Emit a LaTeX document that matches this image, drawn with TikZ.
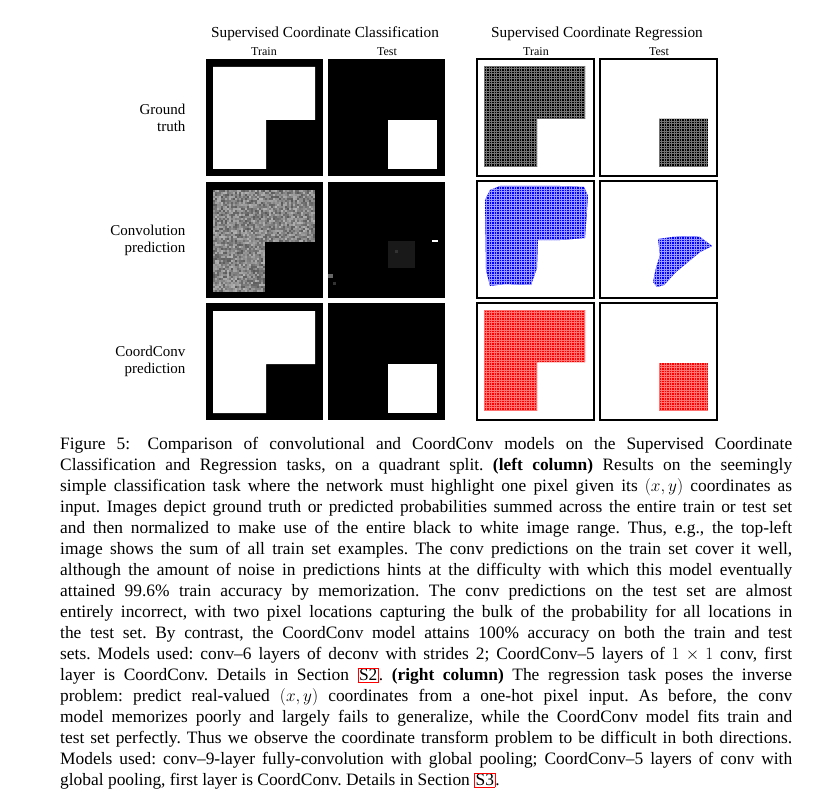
\documentclass[tikz,border=0pt]{standalone}
\usepackage{fontspec}
\setmainfont{Liberation Serif}
\begin{document}
\begin{tikzpicture}[x=1pt,y=-1pt,
  wbox/.style={draw=black,line width=1.6pt,fill=white},
  lbl/.style={font=\fontsize{15}{17}\selectfont,align=right,anchor=east},
  hdr/.style={font=\fontsize{15.3}{17}\selectfont},
  sub/.style={font=\fontsize{12}{14}\selectfont}]
\useasboundingbox[fill=white] (0,0) rectangle (818,802);
% headers
\node[hdr] (h1) at (325,34) {Supervised Coordinate Classification};
\node[hdr] (h2) at (597,34) {Supervised Coordinate Regression};
\node[sub] (t1) at (264,52) {Train};
\node[sub] (t2) at (387,52) {Test};
\node[sub] (t3) at (536,52) {Train};
\node[sub] (t4) at (659,52) {Test};
% row labels
\node[lbl] (r1) at (189,118) {Ground\\truth};
\node[lbl] (r2) at (189,240) {Convolution\\prediction};
\node[lbl] (r3) at (189,361) {CoordConv\\prediction};
% ---------- classification panels
\foreach \y in {0,244}{
  \fill[black] (206,59+\y) rectangle (323,176+\y);
  \fill[white] (213,67+\y) -- (315,67+\y) -- (315,120+\y) -- (266,120+\y) -- (266,169+\y) -- (213,169+\y) -- cycle;
  \fill[black] (328,59+\y) rectangle (445,176+\y);
  \fill[white] (388,120+\y) rectangle (437,169+\y);
}
% conv train noise
\fill[black] (206,182) rectangle (323,298);
\pgfmathsetseed{7}
\foreach \i in {0,...,50}{
  \foreach \j in {0,...,50}{
    \pgfmathsetmacro\px{213+2*\i}
    \pgfmathsetmacro\py{190+2*\j}
    \pgfmathsetmacro\ok{(\px<265 || \py<241) ? 1 : 0}
    \ifdim\ok pt>0.5pt
      \pgfmathsetmacro\g{30+35*rnd}
      \fill[black!\g] (\px,\py) rectangle ++(2,2);
    \fi
  }
}
% conv test
\fill[black] (328,182) rectangle (445,298);
\fill[black!90] (388,241) rectangle (415,268);
\fill[black!80] (395,250) rectangle (398,253);
\fill[white] (432,240) rectangle (438,242);
\fill[black!60] (328,274) rectangle (333,278);
\fill[black!80] (333,282) rectangle (336,285);
% ---------- regression panels
\foreach \y in {0,122,244}{
  \draw[wbox] (477,59+\y) rectangle (594,176+\y);
  \draw[wbox] (600,59+\y) rectangle (717,176+\y);
}
% ground truth grid (dark)
\begin{scope}
  \clip (484,66) -- (585,66) -- (585,119) -- (537,119) -- (537,167) -- (484,167) -- cycle
        (659,119) rectangle (708,167);
  \fill[black] (484,66) rectangle (708,167);
  \foreach \k in {0,...,90}{
    \draw[black!55,line width=0.3pt] (484+2.5*\k,66) -- (484+2.5*\k,167);
  }
  \foreach \k in {0,...,41}{
    \draw[black!55,line width=0.3pt] (484,66+2.5*\k) -- (708,66+2.5*\k);
  }
\end{scope}
% CoordConv grid (red)
\begin{scope}
  \clip (484,310) -- (585,310) -- (585,362) -- (537,362) -- (537,411) -- (484,411) -- cycle
        (659,363) rectangle (708,411);
  \fill[red] (484,310) rectangle (708,411);
  \foreach \k in {0,...,90}{
    \draw[white!45!red,line width=0.3pt] (484+2.5*\k,310) -- (484+2.5*\k,411);
  }
  \foreach \k in {0,...,41}{
    \draw[white!45!red,line width=0.3pt] (484,310+2.5*\k) -- (708,310+2.5*\k);
  }
\end{scope}
% conv blue predictions
\begin{scope}
  \clip (490,190) -- (500,186) -- (560,186) -- (584,187) -- (588,196) -- (585,238) -- (560,240) -- (538,240) -- (537,268) -- (531,285) -- (505,284) -- (490,286) -- (486,270) -- (485,200) -- cycle
        (658,239) -- (672,237) -- (690,236) -- (700,237) -- (712,246) -- (700,252) -- (688,262) -- (676,272) -- (664,285) -- (657,287) -- (653,282) -- (656,268) -- (660,255) -- cycle;
  \fill[blue] (484,184) rectangle (712,290);
  \foreach \k in {0,...,90}{
    \draw[white!60!blue,line width=0.3pt] (484+2.5*\k,184) -- (484+2.5*\k,290);
  }
  \foreach \k in {0,...,42}{
    \draw[white!60!blue,line width=0.3pt] (484,184+2.5*\k) -- (712,184+2.5*\k);
  }
\end{scope}
% ---------- caption
\node[anchor=north west,inner sep=0pt,text width=732pt,align=justify,
  font=\fontsize{17.4}{21}\selectfont] (cap) at (60,437) {%
\parindent=0pt\parfillskip=0pt\hyphenpenalty=10000\emergencystretch=20pt\frenchspacing
\setlength\fboxsep{1pt}%
Figure 5:\quad Comparison of convolutional and CoordConv models on the Supervised Coordinate\par
Classification and Regression tasks, on a quadrant split. \textbf{(left column)} Results on the seemingly\par
simple classification task where the network must highlight one pixel given its $(x,y)$ coordinates as\par
input. Images depict ground truth or predicted probabilities summed across the entire train or test set\par
and then normalized to make use of the entire black to white image range. Thus, e.g., the top-left\par
image shows the sum of all train set examples. The conv predictions on the train set cover it well,\par
although the amount of noise in predictions hints at the difficulty with which this model eventually\par
attained 99.6\% train accuracy by memorization. The conv predictions on the test set are almost\par
entirely incorrect, with two pixel locations capturing the bulk of the probability for all locations in\par
the test set. By contrast, the CoordConv model attains 100\% accuracy on both the train and test\par
sets. Models used: conv–6 layers of deconv with strides 2; CoordConv–5 layers of $1\times1$ conv, first\par
layer is CoordConv. Details in Section \fcolorbox{red}{white}{S2}. \textbf{(right column)} The regression task poses the inverse\par
problem: predict real-valued $(x,y)$ coordinates from a one-hot pixel input. As before, the conv\par
model memorizes poorly and largely fails to generalize, while the CoordConv model fits train and\par
test set perfectly. Thus we observe the coordinate transform problem to be difficult in both directions.\par
Models used: conv–9-layer fully-convolution with global pooling; CoordConv–5 layers of conv with\par
\parfillskip=0pt plus 1fil global pooling, first layer is CoordConv. Details in Section \fcolorbox{red}{white}{S3}.\par};
\end{tikzpicture}
\end{document}
